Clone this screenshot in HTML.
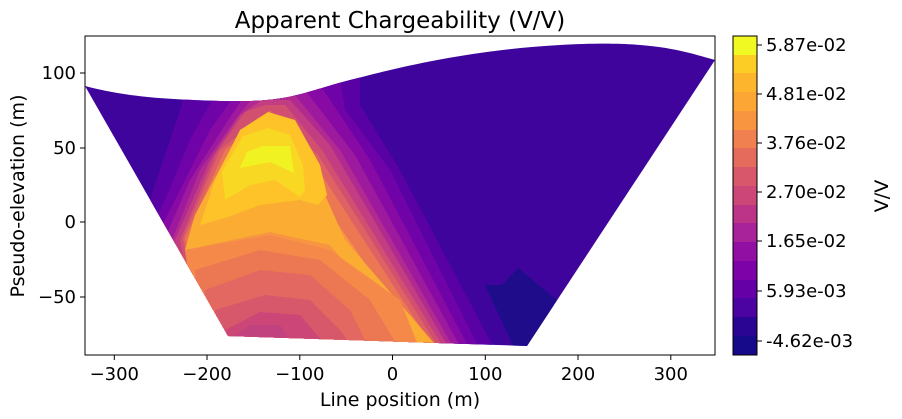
<!DOCTYPE html>
<html><head><meta charset="utf-8"><style>body{margin:0;background:#fff}svg{display:block}text{font-family:"DejaVu Sans","Liberation Sans",sans-serif;fill:#000}</style></head><body>
<svg width="902" height="419" viewBox="0 0 902 419" xmlns="http://www.w3.org/2000/svg">
<defs><clipPath id="c"><path d="M85,86 C120,95 150,99 220,101 S300,93 350,80 S470,50 560,45 S680,50 715,60 L527,346 L228,336 Z"/></clipPath></defs>
<g clip-path="url(#c)">
<rect x="80" y="30" width="640" height="330" fill="#3e049c"/>
<polygon fill="#1f0c8a" points="485,285 502,285 518,268 557,300 527,350 515,350"/>
<polygon fill="#5a01a5" points="185,95 360,60 360,105 400,170 495,350 200,350 100,180 150,200"/>
<polygon fill="#7003a8" points="215,95 340,80 345,110 390,170 480,350 200,350 140,250 165,200 190,140"/>
<polygon fill="#870aa5" points="235,95 320,85 370,160 470,350 200,350 150,250 180,190 210,130"/>
<polygon fill="#9d199e" points="245,95 305,90 355,155 462,350 200,350 160,250 190,180 225,125"/>
<polygon fill="#b12a90" points="255,95 295,95 340,150 455,350 200,350 170,245 200,170 235,120"/>
<polygon fill="#c23d82" points="262,100 290,100 330,145 450,350 200,350 175,240 210,160 240,115"/>
<polygon fill="#d2506f" points="265,105 285,105 322,150 445,350 200,350 180,240 215,155 245,112"/>
<polygon fill="#de6164" points="270,110 318,155 440,350 200,350 183,238 220,150"/>
<polygon fill="#ec7853" points="270,115 312,160 435,350 200,350 185,238 225,150"/>
<polygon fill="#f89540" points="270,122 305,165 335,220 425,350 200,350 190,240 230,150"/>
<polygon fill="#fbad33" points="268,127 300,145 325,195 345,240 440,350 420,350 330,245 270,232 185,250 195,215 230,150"/>
<polygon fill="#fdc328" points="200,225 215,180 240,130 268,112 295,120 320,165 327,195 318,205 300,200 260,205 225,218"/>
<polygon fill="#f8d822" points="222,172 243,136 268,128 290,135 303,165 305,190 300,197 275,180 250,185 225,200"/>
<polygon fill="#f0f321" points="247,152 262,146 290,146 294,173 270,162 240,168"/>
<polygon fill="#f4894a" points="185,250 270,235 330,250 400,300 420,350 200,350"/>
<polygon fill="#ec7853" points="195,270 260,250 320,260 370,300 400,350 200,350"/>
<polygon fill="#e36862" points="205,290 260,270 310,275 350,310 370,350 205,350"/>
<polygon fill="#d8586b" points="215,310 265,295 310,300 340,330 355,350 215,350"/>
<polygon fill="#cc4778" points="225,330 260,312 300,315 330,350 225,350"/>
<polygon fill="#c2417f" points="232,338 250,325 280,325 290,340 232,345"/>
<line x1="140" y1="185" x2="185" y2="262" stroke="#f4894a" stroke-width="2"/>
</g>
<rect x="85" y="36" width="630" height="319" fill="none" stroke="#000" stroke-width="1"/>
<g stroke="#000" stroke-width="1">
<line x1="114.3" y1="355" x2="114.3" y2="360"/><line x1="207" y1="355" x2="207" y2="360"/><line x1="299.8" y1="355" x2="299.8" y2="360"/><line x1="392.5" y1="355" x2="392.5" y2="360"/><line x1="485.3" y1="355" x2="485.3" y2="360"/><line x1="578" y1="355" x2="578" y2="360"/><line x1="670.8" y1="355" x2="670.8" y2="360"/>
<line x1="80" y1="73" x2="85" y2="73"/><line x1="80" y1="148" x2="85" y2="148"/><line x1="80" y1="222" x2="85" y2="222"/><line x1="80" y1="297" x2="85" y2="297"/>
</g>
<g font-size="18" text-anchor="middle">
<text x="114.3" y="380">−300</text><text x="207" y="380">−200</text><text x="299.8" y="380">−100</text><text x="392.5" y="380">0</text><text x="485.3" y="380">100</text><text x="578" y="380">200</text><text x="670.8" y="380">300</text>
<text x="400" y="406" font-size="19">Line position (m)</text>
<text x="400" y="28" font-size="23">Apparent Chargeability (V/V)</text>
<text transform="translate(24,196) rotate(-90)" font-size="19">Pseudo-elevation (m)</text>
<text transform="translate(888,196) rotate(-90)" font-size="19">V/V</text>
</g>
<g font-size="18" text-anchor="end">
<text x="76" y="79">100</text><text x="76" y="154">50</text><text x="76" y="228">0</text><text x="76" y="303">−50</text>
</g>
<g>
<rect x="733" y="36" width="24" height="19" fill="#f0f921"/>
<rect x="733" y="55" width="24" height="19" fill="#fcce25"/>
<rect x="733" y="73" width="24" height="19" fill="#fdb52e"/>
<rect x="733" y="92" width="24" height="19" fill="#fca636"/>
<rect x="733" y="111" width="24" height="19" fill="#f89540"/>
<rect x="733" y="130" width="24" height="19" fill="#f08050"/>
<rect x="733" y="148" width="24" height="19" fill="#e56b5d"/>
<rect x="733" y="167" width="24" height="19" fill="#d8576b"/>
<rect x="733" y="186" width="24" height="19" fill="#cc4778"/>
<rect x="733" y="205" width="24" height="19" fill="#bc3488"/>
<rect x="733" y="223" width="24" height="19" fill="#a8229a"/>
<rect x="733" y="242" width="24" height="19" fill="#920fa3"/>
<rect x="733" y="261" width="24" height="19" fill="#7d03a8"/>
<rect x="733" y="280" width="24" height="19" fill="#6500a7"/>
<rect x="733" y="298" width="24" height="19" fill="#4b03a1"/>
<rect x="733" y="317" width="24" height="19" fill="#2a0593"/>
<rect x="733" y="336" width="24" height="19" fill="#170a8a"/>
<rect x="733" y="36" width="24" height="319" fill="none" stroke="#000" stroke-width="1"/>
</g>
<g stroke="#000"><line x1="757" y1="45" x2="762" y2="45"/><line x1="757" y1="94" x2="762" y2="94"/><line x1="757" y1="143" x2="762" y2="143"/><line x1="757" y1="192" x2="762" y2="192"/><line x1="757" y1="241" x2="762" y2="241"/><line x1="757" y1="291" x2="762" y2="291"/><line x1="757" y1="341" x2="762" y2="341"/></g>
<g font-size="18">
<text x="766" y="51">5.87e-02</text><text x="766" y="100">4.81e-02</text><text x="766" y="149">3.76e-02</text><text x="766" y="198">2.70e-02</text><text x="766" y="247">1.65e-02</text><text x="766" y="297">5.93e-03</text><text x="766" y="347">-4.62e-03</text>
</g>
</svg>
</body></html>
